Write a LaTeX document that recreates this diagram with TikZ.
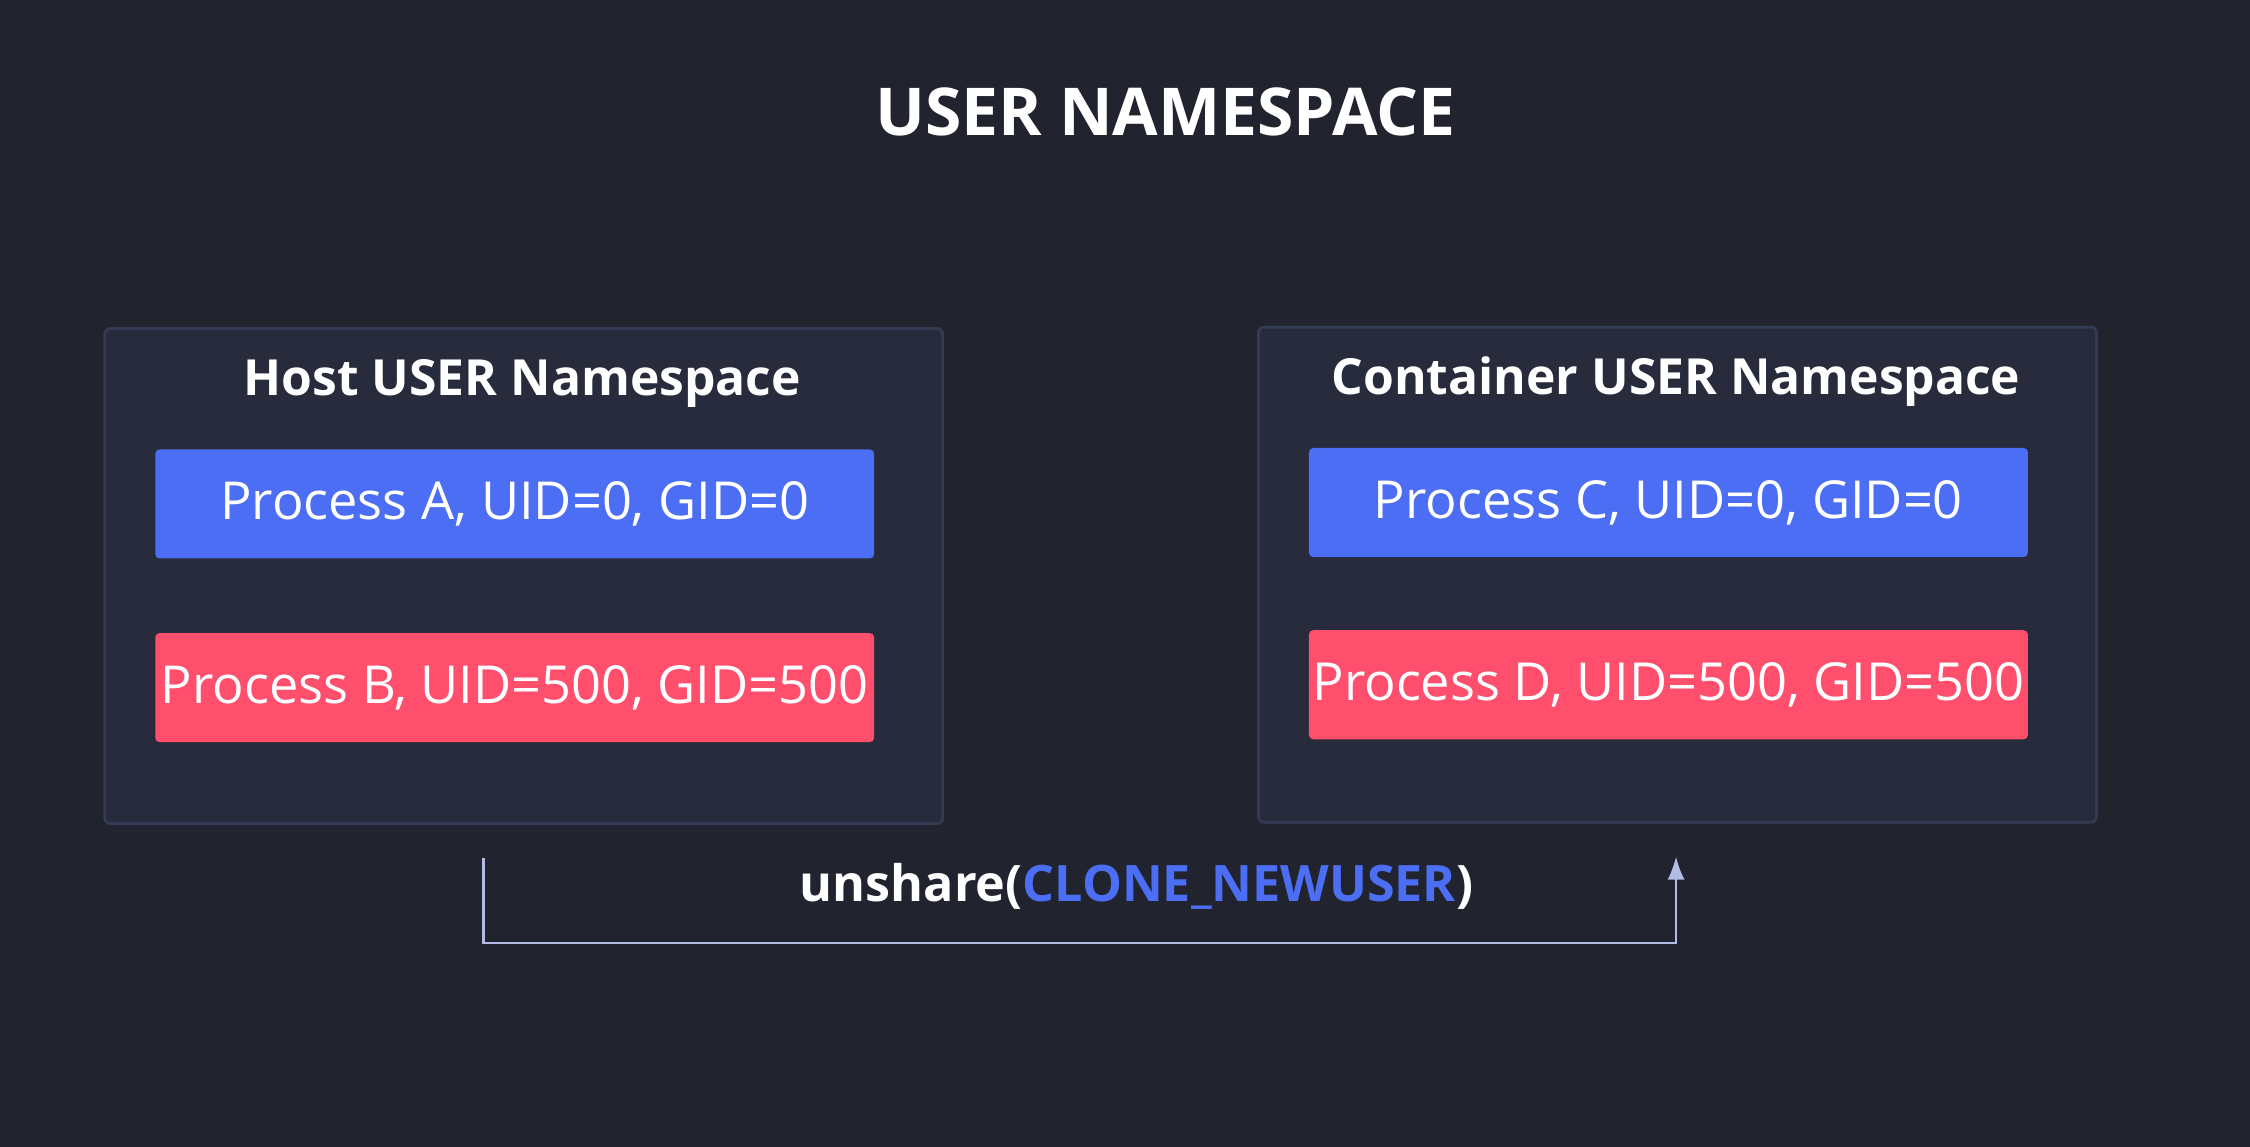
\documentclass[tikz,border=0pt]{standalone}
\usepackage{fontspec}
\setmainfont{Open Sans}
\usetikzlibrary{arrows.meta}
\definecolor{bg}{HTML}{21242F}
\definecolor{panel}{HTML}{272B3B}
\definecolor{panelb}{HTML}{343B52}
\definecolor{pblue}{HTML}{4C6EF5}
\definecolor{pred}{HTML}{FF4F6D}
\definecolor{arr}{HTML}{B4BCE6}
\begin{document}
\begin{tikzpicture}[x=1pt,y=-1pt,
  panelbox/.style={draw=panelb,line width=2pt,fill=panel,rounded corners=4pt,minimum width=584pt,minimum height=345pt,anchor=north west},
  proc/.style={rounded corners=3pt,minimum width=501pt,minimum height=76pt,anchor=north west,text=white,font=\fontsize{36.5}{40}\selectfont,inner sep=0pt},
  head/.style={text=white,font=\fontsize{34.7}{40}\selectfont\bfseries}]
\fill[bg] (0,0) rectangle (1568,799);
\useasboundingbox (0,0) rectangle (1568,799);
\node[text=white,font=\fontsize{46}{52}\selectfont\bfseries] (title) at (812,78) {USER NAMESPACE};
\node[panelbox] (host) at (72,228) {};
\node[panelbox] (cont) at (876,227) {};
\node[head] (hh) at (364,267) {Host USER Namespace};
\node[head] (ch) at (1168,266) {Container USER Namespace};
\node[proc,fill=pblue] (pa) at (108,313) {Process A, UID=0, GID=0};
\node[proc,fill=pred] (pb) at (108,441) {Process B, UID=500, GID=500};
\node[proc,fill=pblue] (pc) at (912,312) {Process C, UID=0, GID=0};
\node[proc,fill=pred] (pd) at (912,439) {Process D, UID=500, GID=500};
\coordinate (s) at (337,598);
\coordinate (e) at (1168,597);
\draw[arr,line width=1.6pt,-{Latex[length=16pt,width=12pt]}] (s) -- (337,657) -- (1168,657) -- (e);
\node[text=white,font=\fontsize{35}{40}\selectfont\bfseries] (lbl) at (792,618) {unshare(\textcolor{pblue}{CLONE\_NEWUSER})};
\end{tikzpicture}
\end{document}
